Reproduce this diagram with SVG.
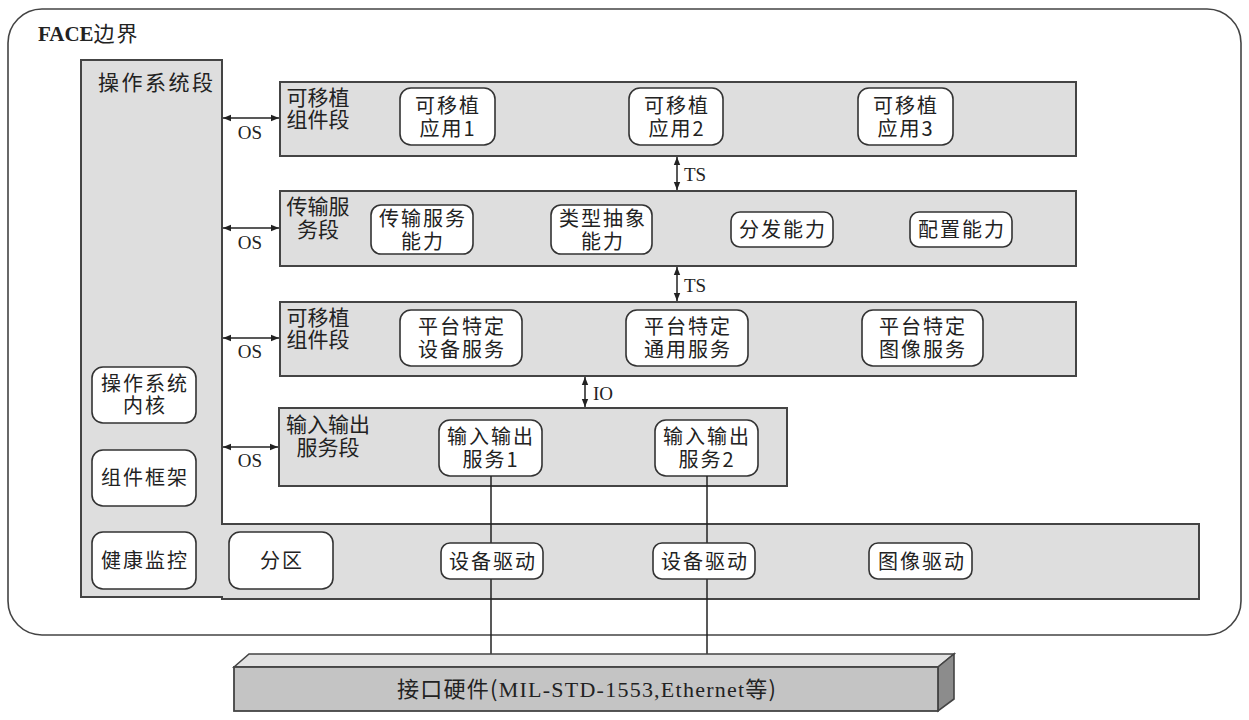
<svg xmlns="http://www.w3.org/2000/svg" width="1249" height="720" viewBox="0 0 1249 720">
<defs>
<marker id="ah" viewBox="0 0 10 10" refX="10" refY="5" markerWidth="8" markerHeight="8" markerUnits="userSpaceOnUse" orient="auto-start-reverse">
<path d="M0,1 L10,5 L0,9 Z" fill="#222"/>
</marker>
<style>
.cn{font-family:"Noto Sans CJK SC","Liberation Serif",sans-serif;fill:#222;}
.bt{font-size:20px;letter-spacing:2px;text-anchor:middle;}
.sl{font-size:21px;text-anchor:middle;}
.lat{font-family:"Liberation Serif","Noto Sans CJK SC",serif;fill:#222;font-size:19px;}
.seg{fill:#dedede;stroke:#444;stroke-width:2;}
.box{fill:#fff;stroke:#333;stroke-width:1.6;}
.con{stroke:#222;stroke-width:1.5;fill:none;}
.arr{stroke:#222;stroke-width:1.5;fill:none;marker-start:url(#ah);marker-end:url(#ah);}
</style>
</defs>
<rect width="1249" height="720" fill="#fff"/>

<g id="face-boundary">
<rect x="8" y="9" width="1233" height="626" rx="34" fill="#fff" stroke="#444" stroke-width="1.6"/>
<text x="38" y="41" font-family="Liberation Serif, serif" font-weight="bold" font-size="21" fill="#222">FACE<tspan font-family="Noto Sans CJK SC, sans-serif" font-weight="normal" font-size="21" letter-spacing="2">边界</tspan></text>
</g>

<g id="os-segment">
<polygon points="81,60 222,60 222,524 1199,524 1199,599 222,599 222,597 81,597" fill="#dedede" stroke="#444" stroke-width="2"/>
<text class="cn" x="98" y="90" font-size="21" letter-spacing="2.5">操作系统段</text>
</g>

<g id="os-kernel">
<rect class="box" x="92" y="367" width="104" height="56" rx="11"/>
<text class="cn bt" x="145" y="391">操作系统</text>
<text class="cn bt" x="145" y="413">内核</text>
</g>
<g id="component-framework">
<rect class="box" x="92" y="450" width="104" height="56" rx="11"/>
<text class="cn bt" x="145" y="485">组件框架</text>
</g>
<g id="health-monitor">
<rect class="box" x="92" y="532" width="104" height="57" rx="11"/>
<text class="cn bt" x="145" y="568">健康监控</text>
</g>
<g id="partition">
<rect class="box" x="229" y="532" width="104" height="57" rx="11"/>
<text class="cn bt" x="282" y="568">分区</text>
</g>

<g id="pcs-top">
<rect class="seg" x="280" y="82" width="796" height="74"/>
<text class="cn sl" x="318" y="105">可移植</text>
<text class="cn sl" x="318" y="127">组件段</text>
</g>
<g id="app1">
<rect class="box" x="400" y="88" width="95" height="57" rx="11"/>
<text class="cn bt" x="448" y="113">可移植</text>
<text class="cn bt" x="448" y="136">应用1</text>
</g>
<g id="app2">
<rect class="box" x="629" y="88" width="94" height="57" rx="11"/>
<text class="cn bt" x="677" y="113">可移植</text>
<text class="cn bt" x="677" y="136">应用2</text>
</g>
<g id="app3">
<rect class="box" x="858" y="88" width="95" height="57" rx="11"/>
<text class="cn bt" x="906" y="113">可移植</text>
<text class="cn bt" x="906" y="136">应用3</text>
</g>

<g id="tss">
<rect class="seg" x="280" y="191" width="796" height="75"/>
<text class="cn sl" x="318" y="214">传输服</text>
<text class="cn sl" x="318" y="237">务段</text>
</g>
<g id="ts-capability">
<rect class="box" x="371" y="205" width="102" height="49" rx="10"/>
<text class="cn bt" x="423" y="226">传输服务</text>
<text class="cn bt" x="423" y="249">能力</text>
</g>
<g id="type-abstraction">
<rect class="box" x="551" y="205" width="101" height="49" rx="10"/>
<text class="cn bt" x="603" y="226">类型抽象</text>
<text class="cn bt" x="603" y="249">能力</text>
</g>
<g id="distribution">
<rect class="box" x="731" y="212" width="102" height="35" rx="9"/>
<text class="cn bt" x="783" y="237">分发能力</text>
</g>
<g id="configuration">
<rect class="box" x="910" y="212" width="102" height="35" rx="9"/>
<text class="cn bt" x="962" y="237">配置能力</text>
</g>

<g id="pcs-platform">
<rect class="seg" x="280" y="302" width="796" height="74"/>
<text class="cn sl" x="318" y="325">可移植</text>
<text class="cn sl" x="318" y="347">组件段</text>
</g>
<g id="psss-device">
<rect class="box" x="400" y="310" width="122" height="56" rx="11"/>
<text class="cn bt" x="462" y="334">平台特定</text>
<text class="cn bt" x="462" y="357">设备服务</text>
</g>
<g id="psss-common">
<rect class="box" x="626" y="310" width="122" height="56" rx="11"/>
<text class="cn bt" x="688" y="334">平台特定</text>
<text class="cn bt" x="688" y="357">通用服务</text>
</g>
<g id="psss-graphics">
<rect class="box" x="862" y="310" width="121" height="56" rx="11"/>
<text class="cn bt" x="923" y="334">平台特定</text>
<text class="cn bt" x="923" y="357">图像服务</text>
</g>

<g id="ioss">
<rect class="seg" x="279" y="408" width="508" height="78"/>
<text class="cn sl" x="328" y="432">输入输出</text>
<text class="cn sl" x="328" y="455">服务段</text>
</g>
<g id="io-service1">
<rect class="box" x="439" y="420" width="103" height="56" rx="11"/>
<text class="cn bt" x="491" y="444">输入输出</text>
<text class="cn bt" x="491" y="467">服务1</text>
</g>
<g id="io-service2">
<rect class="box" x="655" y="420" width="103" height="56" rx="11"/>
<text class="cn bt" x="707" y="444">输入输出</text>
<text class="cn bt" x="707" y="467">服务2</text>
</g>

<g id="connectors">
<line class="arr" x1="223" y1="118" x2="279" y2="118"/>
<line class="arr" x1="223" y1="228" x2="279" y2="228"/>
<line class="arr" x1="223" y1="338" x2="279" y2="338"/>
<line class="arr" x1="223" y1="447" x2="278" y2="447"/>
<line class="arr" x1="677" y1="157" x2="677" y2="190"/>
<line class="arr" x1="677" y1="267" x2="677" y2="301"/>
<line class="arr" x1="585" y1="377" x2="585" y2="407"/>
<line class="con" x1="491" y1="476" x2="491" y2="654"/>
<line class="con" x1="707" y1="476" x2="707" y2="654"/>
<text class="lat" x="250" y="139" text-anchor="middle">OS</text>
<text class="lat" x="250" y="249" text-anchor="middle">OS</text>
<text class="lat" x="250" y="358" text-anchor="middle">OS</text>
<text class="lat" x="250" y="467" text-anchor="middle">OS</text>
<text class="lat" x="684" y="181">TS</text>
<text class="lat" x="684" y="292">TS</text>
<text class="lat" x="593" y="400">IO</text>
</g>

<g id="device-driver1">
<rect class="box" x="441" y="543" width="102" height="36" rx="9"/>
<text class="cn bt" x="493" y="569">设备驱动</text>
</g>
<g id="device-driver2">
<rect class="box" x="653" y="543" width="102" height="36" rx="9"/>
<text class="cn bt" x="705" y="569">设备驱动</text>
</g>
<g id="graphics-driver">
<rect class="box" x="869" y="543" width="103" height="36" rx="9"/>
<text class="cn bt" x="922" y="569">图像驱动</text>
</g>

<g id="interface-hardware">
<polygon points="234,667 249,654 954,654 938,667" fill="#e2e2e2" stroke="#444" stroke-width="1.6"/>
<polygon points="938,667 954,654 954,699 938,711" fill="#8c8c8c" stroke="#444" stroke-width="1.6"/>
<rect x="234" y="667" width="704" height="44" fill="#c4c4c4" stroke="#444" stroke-width="1.8"/>
<text class="cn" x="397" y="697" font-size="22" textLength="379" lengthAdjust="spacing">接口硬件(<tspan font-family="Liberation Serif, serif">MIL-STD-1553,Ethernet</tspan>等)</text>
</g>
</svg>
